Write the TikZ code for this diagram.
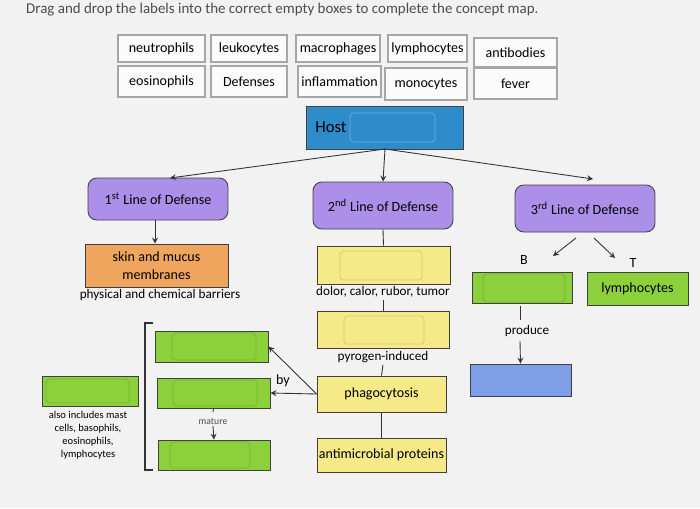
\documentclass[tikz,border=0pt]{standalone}
\usepackage{fontspec}
\setmainfont{Carlito}
\definecolor{gr}{HTML}{8CD13C}
\definecolor{ye}{HTML}{F5E988}
\definecolor{pu}{HTML}{AC8FE8}
\definecolor{hb}{HTML}{2E8CCB}
\definecolor{bl}{HTML}{7F9FE8}
\definecolor{or}{HTML}{F0A55E}
\begin{document}
\begin{tikzpicture}[x=0.02cm,y=-0.02cm,
 bank/.style={draw=gray!70,fill=white!97!gray,line width=0.6pt,font=\fontsize{8}{9}\selectfont},
 box/.style={draw=black!75,line width=0.5pt,inner sep=1pt},
 purp/.style={box,fill=pu,rounded corners=5pt,font=\fontsize{8}{9}\selectfont},
 yel/.style={box,fill=ye},
 grn/.style={box,fill=gr},
 inner/.style={draw=black,draw opacity=0.15,rounded corners=2pt,line width=0.4pt},
 lab/.style={font=\fontsize{7.5}{8.5}\selectfont,align=center,inner sep=1pt},
 arr/.style={->,>=stealth,black!80,line width=0.5pt},
 ln/.style={black!80,line width=0.5pt}]
\path[use as bounding box,fill=gray!10] (0,0) rectangle (700,508);
\node[font=\fontsize{8.5}{9}\selectfont,text=gray!60!black,anchor=west] (title) at (20,10) {Drag and drop the labels into the correct empty boxes to complete the concept map.};
% word bank
\foreach \n/\t/\a/\b/\c/\d in {n1/neutrophils/118/35/205/62, n2/leukocytes/211/35/287/62, n3/macrophages/296/35/380/62, n4/lymphocytes/388/35/467/62, n5/antibodies/474/38/557/67, m1/eosinophils/118/66/205/97, m2/Defenses/211/66/287/97, m3/inflammation/298/66/381/97, m4/monocytes/385/68/467/100, m5/fever/474/68/557/99}
 {\draw[bank] (\a,\b) rectangle (\c,\d) node[midway] (\n) {\t};}
% host
\node[box,fill=hb,minimum width=3.14cm,minimum height=0.86cm] (host) at (384.5,127.5) {};
\node[anchor=west,font=\fontsize{9.5}{11}\selectfont,inner sep=0pt] (hostt) at (315,127) {Host};
\draw[inner,draw=white,draw opacity=0.3] (350,113) rectangle (435,142);
% lines
\node[purp,minimum width=2.8cm,minimum height=0.84cm] (l1) at (158,199) {1\textsuperscript{st} Line of Defense};
\node[purp,minimum width=2.8cm,minimum height=0.94cm] (l2) at (383,205.5) {2\textsuperscript{nd} Line of Defense};
\node[purp,minimum width=2.8cm,minimum height=0.94cm] (l3) at (585,208.5) {3\textsuperscript{rd} Line of Defense};
\coordinate (hb) at (385,149);
\draw[arr] (hb) -- (170,178);
\draw[arr] (hb) -- (l2.north);
\draw[arr] (hb) -- (593,179);
% first line
\node[box,fill=or,minimum width=2.86cm,minimum height=0.86cm,align=center,font=\fontsize{8}{10}\selectfont] (skin) at (156.5,265.5) {skin and mucus\\membranes};
\draw[arr] (155,220) -- (skin.north-|155,0);
\node[lab] (phys) at (160,295) {physical and chemical barriers};
% second line
\node[yel,minimum width=2.66cm,minimum height=0.76cm] (y1) at (383.5,265) {};
\draw[inner] (340,251) rectangle (422,280);
\node[lab] (dol) at (383,292) {dolor, calor, rubor, tumor};
\node[yel,minimum width=2.64cm,minimum height=0.74cm] (y2) at (383,329.5) {};
\draw[inner] (344,316) rectangle (424,344);
\node[lab] (pyr) at (383,357) {pyrogen-induced};
\node[yel,minimum width=2.58cm,minimum height=0.72cm,font=\fontsize{8}{9}\selectfont] (ph) at (381.5,394) {phagocytosis};
\node[yel,minimum width=2.58cm,minimum height=0.68cm,font=\fontsize{8}{9}\selectfont] (am) at (381.5,455) {antimicrobial proteins};
\draw[ln] (l2.south) -- (y1.north);
\draw[ln] (dol.south) -- (y2.north);
\draw[ln] (pyr.south) -- (ph.north);
\draw[ln] (ph.south) -- (am.north);
% greens left
\node[grn,minimum width=2.26cm,minimum height=0.62cm] (g1) at (211.5,346.5) {};
\draw[inner] (172,333) rectangle (256,360);
\node[grn,minimum width=2.26cm,minimum height=0.6cm] (g2) at (213.5,393) {};
\draw[inner] (173,380) rectangle (257,406);
\node[grn,minimum width=2.24cm,minimum height=0.6cm] (g3) at (214,455) {};
\draw[inner] (170,442) rectangle (250,468);
\node[grn,minimum width=1.92cm,minimum height=0.6cm] (g0) at (90,391) {};
\draw[inner] (46,379) rectangle (129,403);
\node[lab,font=\fontsize{6}{7.5}\selectfont] (also) at (88,435) {also includes mast\\cells, basophils,\\eosinophils,\\lymphocytes};
\draw[ln,line width=0.7pt] (153,323) -- (145,323) -- (145,470) -- (153,470);
\draw[ln] (g2.south) -- (213,412);
\node[lab,font=\fontsize{5.5}{6.5}\selectfont,text=black!70] (mat) at (213,421) {mature};
\draw[arr] (mat.south) -- (g3.north);
\draw[arr] (ph.west) -- (g1.east);
\draw[arr] (ph.west) -- (g2.east);
\node[lab,font=\fontsize{8}{9}\selectfont] (by) at (283,381) {by};
% third line
\node[font=\fontsize{8}{9}\selectfont] (B) at (524,260) {B};
\node[font=\fontsize{8}{9}\selectfont] (T) at (633,263) {T};
\coordinate (a1) at (576,238); \coordinate (a2) at (553,256);
\coordinate (b1) at (594,238); \coordinate (b2) at (615,258);
\draw[arr] (a1) -- (a2);
\draw[arr] (b1) -- (b2);
\node[grn,minimum width=2cm,minimum height=0.62cm] (gb) at (522,287.5) {};
\draw[inner] (483,274) rectangle (565,302);
\node[grn,minimum width=2.02cm,minimum height=0.66cm,font=\fontsize{8}{9}\selectfont] (gt) at (637.5,288.5) {lymphocytes};
\draw[ln] (520,306) -- (520,320);
\node[lab] (prod) at (527,331) {produce};
\node[box,fill=bl,minimum width=2.02cm,minimum height=0.64cm] (ab) at (520.5,380) {};
\draw[arr] (520,341) -- (ab.north);
\end{tikzpicture}
\end{document}
